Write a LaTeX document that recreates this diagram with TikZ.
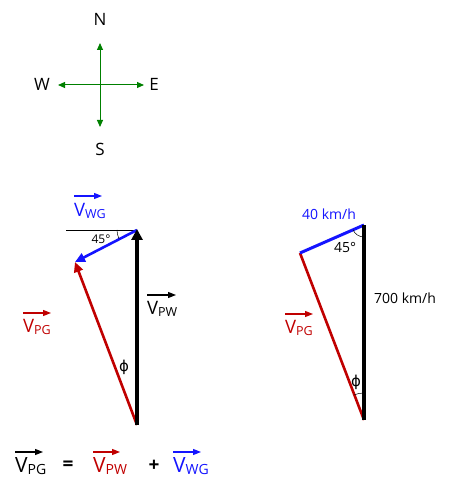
\documentclass[tikz,border=0pt]{standalone}
\usepackage{fontspec}
\setmainfont{Open Sans}
\newfontfamily\phifont{DejaVu Sans}
\usetikzlibrary{arrows.meta}
\definecolor{myred}{RGB}{192,0,0}
\definecolor{myblue}{RGB}{20,20,255}
\definecolor{mygreen}{RGB}{0,128,0}
\newcommand\VLab[4]{{\fontsize{#1}{#1}\selectfont V}\raisebox{-#4pt}{\fontsize{#2}{#2}\selectfont #3}}
\tikzset{
  lab/.style={inner sep=0pt, font=\fontsize{14}{14}\selectfont},
  cmp/.style={inner sep=0pt, font=\fontsize{17}{17}\selectfont},
  vlab/.style={inner sep=0pt, anchor=base west},
  ovarrow/.style={line width=1.3pt, -{Triangle[length=8pt,width=6pt]}},
  comp/.style={mygreen, line width=1pt, -{Triangle[length=7pt,width=6pt]}},
}
\begin{document}
\begin{tikzpicture}[x=1pt,y=1pt]
\useasboundingbox (0,0) rectangle (448,495);
% compass
\coordinate (c) at (100,410);
\coordinate (cn) at (100,452);
\coordinate (cs) at (100,368);
\coordinate (cw) at (58,410);
\coordinate (ce) at (144,410);
\draw[comp] (c) -- (cn);
\draw[comp] (c) -- (cs);
\draw[comp] (c) -- (cw);
\draw[comp] (c) -- (ce);
\node[cmp] (N) at (100,476) {N};
\node[cmp] (S) at (100,346) {S};
\node[cmp] (W) at (42,411) {W};
\node[cmp] (E) at (154,411) {E};
% left triangle
\coordinate (T) at (137,265);
\coordinate (B) at (137,70);
\coordinate (L) at (75,233);
\coordinate (H) at (66,265);
\draw[line width=0.7pt] (H) -- (T);
\draw[myred, line width=2.6pt, -{Triangle[length=10pt,width=9pt]}] (B) -- (L);
\draw[myblue, line width=2.6pt, -{Triangle[length=10pt,width=9pt]}] (T) -- (L);
\draw[black, line width=3.5pt, -{Triangle[length=11pt,width=11pt]}] (B) -- ([yshift=1pt]T);
\draw[line width=0.5pt] ([shift={(180:20)}]T) arc[start angle=180, end angle=207, radius=20];
\node[lab, font=\fontsize{12}{12}\selectfont] (a45) at (101,256) {45°};
\node[lab, font=\phifont\fontsize{15}{15}\selectfont] (phiL) at (124,128) {ϕ};
\node[vlab, text=myblue] (vwg) at (74,278) {\VLab{18.5}{12.5}{WG}{2}};
\draw[ovarrow, myblue] ([yshift=21pt]vwg.base west) -- ++(28,0);
\node[vlab] (vpw) at (147,180) {\VLab{18.5}{12.5}{PW}{2}};
\draw[ovarrow] ([yshift=20pt]vpw.base west) -- ++(29,0);
\node[vlab, text=myred] (vpg) at (23,162) {\VLab{18.5}{12.5}{PG}{2}};
\draw[ovarrow, myred] ([yshift=20pt]vpg.base west) -- ++(28,0);
% right triangle
\coordinate (T2) at (364,270);
\coordinate (B2) at (364,75);
\coordinate (L2) at (300,242);
\draw[myred, line width=2.6pt] (B2) -- (L2);
\draw[myblue, line width=3pt] (T2) -- (L2);
\draw[black, line width=4pt] (B2) -- (T2);
\draw[line width=0.5pt] ([shift={(203.6:12)}]T2) arc[start angle=203.6, end angle=270, radius=12];
\draw[line width=0.5pt] ([shift={(90:27)}]B2) arc[start angle=90, end angle=111, radius=27];
\node[lab, text=myblue] (k40) at (329,281) {40 km/h};
\node[lab] (a45b) at (345,247) {45°};
\node[lab] (k700) at (405,197) {700 km/h};
\node[lab, font=\phifont\fontsize{15}{15}\selectfont] (phiR) at (356,113) {ϕ};
\node[vlab, text=myred] (vpg2) at (285,161) {\VLab{18.5}{12.5}{PG}{2}};
\draw[ovarrow, myred] ([yshift=20pt]vpg2.base west) -- ++(28,0);
% equation
\node[vlab] (e1) at (15,23) {\VLab{21}{14}{PG}{3}};
\draw[ovarrow] ([yshift=20pt]e1.base west) -- ++(28,0);
\node[lab, font=\fontsize{19}{19}\selectfont\bfseries] (eq) at (68,29) {=};
\node[vlab, text=myred] (e2) at (93,23) {\VLab{21}{14}{PW}{3}};
\draw[ovarrow, myred] ([yshift=20pt]e2.base west) -- ++(27,0);
\node[lab, font=\fontsize{19}{19}\selectfont\bfseries] (pl) at (154,29) {+};
\node[vlab, text=myblue] (e3) at (173,23) {\VLab{21}{14}{WG}{3}};
\draw[ovarrow, myblue] ([yshift=20pt]e3.base west) -- ++(28,0);
\end{tikzpicture}
\end{document}
